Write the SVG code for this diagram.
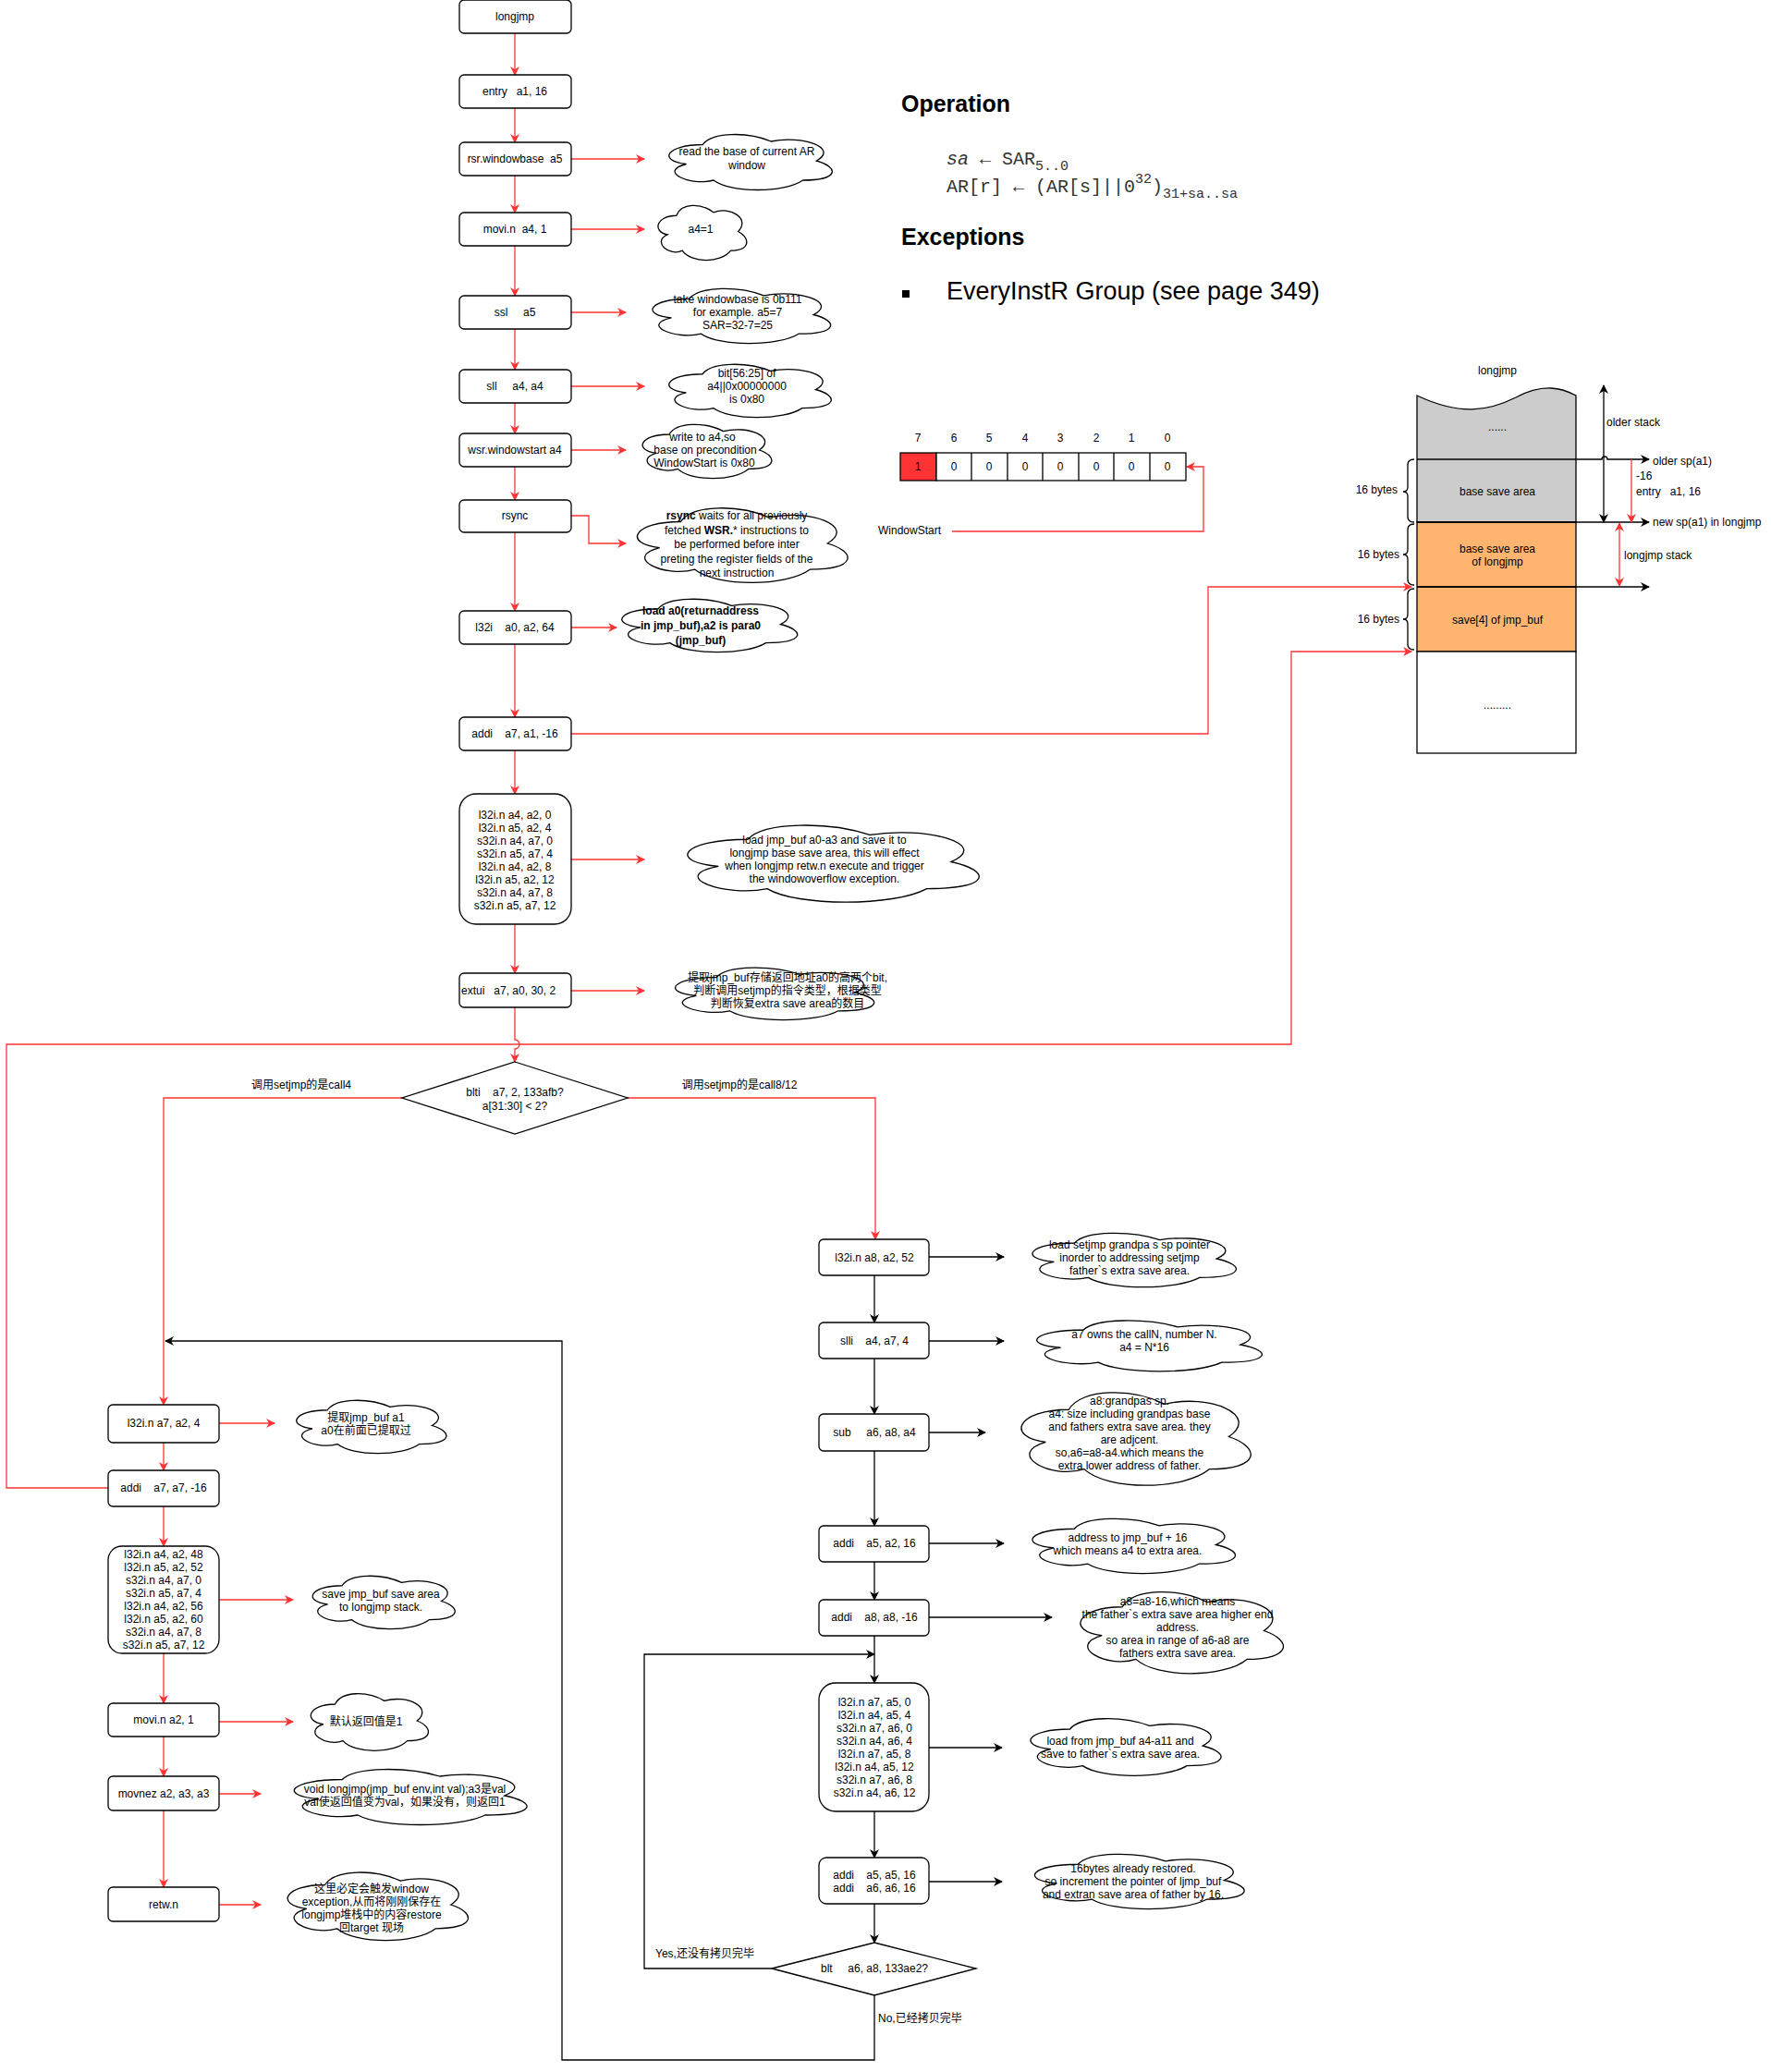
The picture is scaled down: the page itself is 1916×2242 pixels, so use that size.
<svg xmlns="http://www.w3.org/2000/svg" xmlns:xlink="http://www.w3.org/1999/xlink" width="1916" height="2242" viewBox="0 0 1916 2242">
<style>
text{font-family:"Liberation Sans","Noto Sans CJK SC",sans-serif;font-size:12px;fill:#000}
.t{text-anchor:middle;dominant-baseline:central}
.b{fill:#fff;stroke:#000;stroke-width:1.3}
.r{fill:none;stroke:#f33;stroke-width:1.3}
.k{fill:none;stroke:#000;stroke-width:1.3}
.cl{fill:#fff;stroke:#000;stroke-width:1.3}
text.mono{font-family:"Liberation Mono",monospace;font-size:20px;fill:#333}
text.h{font-size:25px;font-weight:bold}
text.big{font-size:27px}
</style>
<defs>
<marker id="ar" viewBox="0 0 10 10" refX="9" refY="5" markerWidth="10" markerHeight="10" markerUnits="userSpaceOnUse" orient="auto"><path d="M0,0 L10,5 L0,10 L3,5 Z" fill="#f33"/></marker>
<marker id="ak" viewBox="0 0 10 10" refX="9" refY="5" markerWidth="10" markerHeight="10" markerUnits="userSpaceOnUse" orient="auto"><path d="M0,0 L10,5 L0,10 L3,5 Z" fill="#000"/></marker>
<marker id="ars" viewBox="0 0 10 10" refX="1" refY="5" markerWidth="10" markerHeight="10" markerUnits="userSpaceOnUse" orient="auto"><path d="M10,0 L0,5 L10,10 L7,5 Z" fill="#f33"/></marker>
<marker id="aks" viewBox="0 0 10 10" refX="1" refY="5" markerWidth="10" markerHeight="10" markerUnits="userSpaceOnUse" orient="auto"><path d="M10,0 L0,5 L10,10 L7,5 Z" fill="#000"/></marker>
<symbol id="cloud" viewBox="0 0 100 100" preserveAspectRatio="none" overflow="visible">
<path vector-effect="non-scaling-stroke" class="cl" d="M25,25 C5,25 0,50 16,55 C0,66 18,90 31,80 C40,100 70,100 80,80 C100,80 100,60 87.5,50 C100,30 80,10 62.5,20 C50,5 30,5 25,25 Z"/>
</symbol>
</defs>

<g id="connectors">
<path class="r" marker-end="url(#ar)" d="M557,36 V81"/>
<path class="r" marker-end="url(#ar)" d="M557,117 V154"/>
<path class="r" marker-end="url(#ar)" d="M557,190 V230"/>
<path class="r" marker-end="url(#ar)" d="M557,266 V320"/>
<path class="r" marker-end="url(#ar)" d="M557,356 V400"/>
<path class="r" marker-end="url(#ar)" d="M557,436 V469"/>
<path class="r" marker-end="url(#ar)" d="M557,505 V541"/>
<path class="r" marker-end="url(#ar)" d="M557,576 V661"/>
<path class="r" marker-end="url(#ar)" d="M557,697 V776"/>
<path class="r" marker-end="url(#ar)" d="M557,812 V859"/>
<path class="r" marker-end="url(#ar)" d="M557,1000 V1053"/>
<path class="r" marker-end="url(#ar)" d="M557,1090 V1125 a5,5 0 0 1 0,10 V1149"/>
<path class="r" marker-end="url(#ar)" d="M618,172 H697"/>
<path class="r" marker-end="url(#ar)" d="M618,248 H697"/>
<path class="r" marker-end="url(#ar)" d="M618,338 H677"/>
<path class="r" marker-end="url(#ar)" d="M618,418 H697"/>
<path class="r" marker-end="url(#ar)" d="M618,487 H677"/>
<path class="r" marker-end="url(#ar)" d="M618,558 H637 V588 H677"/>
<path class="r" marker-end="url(#ar)" d="M618,679 H667"/>
<path class="r" marker-end="url(#ar)" d="M618,930 H697"/>
<path class="r" marker-end="url(#ar)" d="M618,1072 H697"/>
<path class="r" marker-end="url(#ar)" d="M618,794 H1307 V635 H1527"/>
<path class="r" marker-end="url(#ar)" d="M117,1610 H7 V1130 H1397 V705 H1527"/>
<path class="r" marker-end="url(#ar)" d="M435,1188 H177 V1520"/>
<path class="r" marker-end="url(#ar)" d="M679,1188 H947 V1341"/>
<path class="r" marker-end="url(#ar)" d="M177,1561 V1591"/>
<path class="r" marker-end="url(#ar)" d="M177,1630 V1673"/>
<path class="r" marker-end="url(#ar)" d="M177,1789 V1843"/>
<path class="r" marker-end="url(#ar)" d="M177,1879 V1922"/>
<path class="r" marker-end="url(#ar)" d="M177,1959 V2042"/>
<path class="r" marker-end="url(#ar)" d="M237,1540 H297"/>
<path class="r" marker-end="url(#ar)" d="M237,1731 H317"/>
<path class="r" marker-end="url(#ar)" d="M237,1863 H317"/>
<path class="r" marker-end="url(#ar)" d="M237,1941 H282"/>
<path class="r" marker-end="url(#ar)" d="M237,2061 H282"/>
<path class="k" marker-end="url(#ak)" d="M946,1380 V1431"/>
<path class="k" marker-end="url(#ak)" d="M946,1470 V1530"/>
<path class="k" marker-end="url(#ak)" d="M946,1570 V1651"/>
<path class="k" marker-end="url(#ak)" d="M946,1690 V1731"/>
<path class="k" marker-end="url(#ak)" d="M946,1770 V1821"/>
<path class="k" marker-end="url(#ak)" d="M946,1960 V2010"/>
<path class="k" marker-end="url(#ak)" d="M946,2060 V2102"/>
<path class="k" marker-end="url(#ak)" d="M835,2130 H697 V1790 H946"/>
<path class="k" marker-end="url(#ak)" d="M946,2159 V2229 H608 V1451 H179"/>
<path class="k" marker-end="url(#ak)" d="M1005,1360 H1086"/>
<path class="k" marker-end="url(#ak)" d="M1005,1451 H1086"/>
<path class="k" marker-end="url(#ak)" d="M1005,1550 H1066"/>
<path class="k" marker-end="url(#ak)" d="M1005,1670 H1086"/>
<path class="k" marker-end="url(#ak)" d="M1005,1750 H1138"/>
<path class="k" marker-end="url(#ak)" d="M1005,1891 H1084"/>
<path class="k" marker-end="url(#ak)" d="M1005,2036 H1084"/>
<path class="r" marker-end="url(#ar)" d="M1030,575 H1302 V505 H1284"/>
</g>

<text class="t" x="326" y="1174">调用setjmp的是call4</text>
<text class="t" x="800" y="1174">调用setjmp的是call8/12</text>
<text x="709" y="2118">Yes,还没有拷贝完毕</text>
<text x="950" y="2188">No,已经拷贝完毕</text>

<g id="n_longjmp"><rect class="b" x="497" y="0" width="121" height="36" rx="5"/><text class="t" x="557" y="18">longjmp</text></g>
<g id="n_entry"><rect class="b" x="497" y="81" width="121" height="36" rx="5"/><text class="t" x="557" y="99" xml:space="preserve">entry   a1, 16</text></g>
<g id="n_rsr"><rect class="b" x="497" y="154" width="121" height="36" rx="5"/><text class="t" x="557" y="172" xml:space="preserve">rsr.windowbase  a5</text></g>
<g id="n_movi"><rect class="b" x="497" y="230" width="121" height="36" rx="5"/><text class="t" x="557" y="248" xml:space="preserve">movi.n  a4, 1</text></g>
<g id="n_ssl"><rect class="b" x="497" y="320" width="121" height="36" rx="5"/><text class="t" x="557" y="338" xml:space="preserve">ssl     a5</text></g>
<g id="n_sll"><rect class="b" x="497" y="400" width="121" height="36" rx="5"/><text class="t" x="557" y="418" xml:space="preserve">sll     a4, a4</text></g>
<g id="n_wsr"><rect class="b" x="497" y="469" width="121" height="36" rx="5"/><text class="t" x="557" y="487">wsr.windowstart a4</text></g>
<g id="n_rsync"><rect class="b" x="497" y="541" width="121" height="35" rx="5"/><text class="t" x="557" y="558">rsync</text></g>
<g id="n_l32i"><rect class="b" x="497" y="661" width="121" height="36" rx="5"/><text class="t" x="557" y="679" xml:space="preserve">l32i    a0, a2, 64</text></g>
<g id="n_addi1"><rect class="b" x="497" y="776" width="121" height="36" rx="5"/><text class="t" x="557" y="794" xml:space="preserve">addi    a7, a1, -16</text></g>
<g id="n_blk1"><rect class="b" x="497" y="859" width="121" height="141" rx="18"/>
<text class="t" x="557" y="882">l32i.n  a4, a2, 0</text><text class="t" x="557" y="896">l32i.n  a5, a2, 4</text><text class="t" x="557" y="910">s32i.n  a4, a7, 0</text><text class="t" x="557" y="924">s32i.n  a5, a7, 4</text><text class="t" x="557" y="938">l32i.n  a4, a2, 8</text><text class="t" x="557" y="952">l32i.n  a5, a2, 12</text><text class="t" x="557" y="966">s32i.n  a4, a7, 8</text><text class="t" x="557" y="980">s32i.n  a5, a7, 12</text></g>
<g id="n_extui"><rect class="b" x="497" y="1053" width="121" height="37" rx="5"/><text x="499" y="1076" xml:space="preserve">extui   a7, a0, 30, 2</text></g>
<g id="n_blti"><polygon class="b" points="557,1149 679,1188 557,1227 435,1188"/><text class="t" x="557" y="1182" xml:space="preserve">blti    a7, 2, 133afb?</text><text class="t" x="557" y="1197">a[31:30] &lt; 2?</text></g>

<g id="c1"><use href="#cloud" x="711" y="139" width="197" height="70"/><text class="t" x="808" y="164">read the base of current AR</text><text class="t" x="808" y="179">window</text></g>
<g id="c2"><use href="#cloud" x="705" y="216" width="107" height="69"/><text class="t" x="758" y="248">a4=1</text></g>
<g id="c3"><use href="#cloud" x="692" y="306" width="215" height="69"/><text class="t" x="798" y="324">take windowbase is 0b111</text><text class="t" x="798" y="338">for example. a5=7</text><text class="t" x="798" y="352">SAR=32-7=25</text></g>
<g id="c4"><use href="#cloud" x="711" y="388" width="196" height="67"/><text class="t" x="808" y="404">bit[56:25] of</text><text class="t" x="808" y="418">a4||0x00000000</text><text class="t" x="808" y="432">is 0x80</text></g>
<g id="c5"><use href="#cloud" x="685" y="453" width="156" height="68"/><text class="t" x="760" y="473">write to a4,so</text><text class="t" x="763" y="487">base on precondition</text><text class="t" x="762" y="501">WindowStart is 0x80</text></g>
<g id="c6"><use href="#cloud" x="673" y="541" width="254" height="94"/><text class="t" x="797" y="558"><tspan font-weight="bold">rsync</tspan> waits for all previously</text><text class="t" x="797" y="574">fetched <tspan font-weight="bold">WSR.</tspan>* instructions to</text><text class="t" x="797" y="589">be performed before inter</text><text class="t" x="797" y="605">preting the register fields of the</text><text class="t" x="797" y="620">next instruction</text></g>
<g id="c7"><use href="#cloud" x="659" y="642" width="212" height="67"/><text class="t" x="758" y="661" font-weight="bold">load a0(returnaddress</text><text class="t" x="758" y="677" font-weight="bold">in jmp_buf),a2 is para0</text><text class="t" x="758" y="693" font-weight="bold">(jmp_buf)</text></g>
<g id="c8"><use href="#cloud" x="721" y="884" width="352" height="97"/><text class="t" x="892" y="909">load jmp_buf a0-a3 and save it to</text><text class="t" x="892" y="923">longjmp base save area, this will effect</text><text class="t" x="892" y="937">when longjmp retw.n execute and trigger</text><text class="t" x="892" y="951">the windowoverflow exception.</text></g>
<g id="c9"><use href="#cloud" x="715" y="1041" width="240" height="66"/><text class="t" x="852" y="1058">提取jmp_buf存储返回地址a0的高两个bit,</text><text class="t" x="852" y="1072">判断调用setjmp的指令类型，根据类型</text><text class="t" x="852" y="1086">判断恢复extra save area的数目</text></g>

<g id="n_l_l32i"><rect class="b" x="117" y="1520" width="120" height="41" rx="5"/><text class="t" x="177" y="1540">l32i.n  a7, a2, 4</text></g>
<g id="n_l_addi"><rect class="b" x="117" y="1591" width="120" height="39" rx="5"/><text class="t" x="177" y="1610" xml:space="preserve">addi    a7, a7, -16</text></g>
<g id="n_l_blk"><rect class="b" x="117" y="1673" width="120" height="116" rx="15"/>
<text class="t" x="177" y="1682">l32i.n  a4, a2, 48</text><text class="t" x="177" y="1696">l32i.n  a5, a2, 52</text><text class="t" x="177" y="1710">s32i.n  a4, a7, 0</text><text class="t" x="177" y="1724">s32i.n  a5, a7, 4</text><text class="t" x="177" y="1738">l32i.n  a4, a2, 56</text><text class="t" x="177" y="1752">l32i.n  a5, a2, 60</text><text class="t" x="177" y="1766">s32i.n  a4, a7, 8</text><text class="t" x="177" y="1780">s32i.n  a5, a7, 12</text></g>
<g id="n_l_movi"><rect class="b" x="117" y="1843" width="120" height="36" rx="5"/><text class="t" x="177" y="1861">movi.n  a2, 1</text></g>
<g id="n_l_movnez"><rect class="b" x="117" y="1922" width="120" height="37" rx="5"/><text class="t" x="177" y="1941">movnez  a2, a3, a3</text></g>
<g id="n_l_retw"><rect class="b" x="117" y="2042" width="120" height="37" rx="5"/><text class="t" x="177" y="2061">retw.n</text></g>
<g id="c10"><use href="#cloud" x="309" y="1509" width="181" height="67"/><text class="t" x="396" y="1534">提取jmp_buf a1</text><text class="t" x="396" y="1548">a0在前面已提取过</text></g>
<g id="c11"><use href="#cloud" x="327" y="1699" width="172" height="67"/><text class="t" x="412" y="1725">save jmp_buf save area</text><text class="t" x="412" y="1739">to longjmp stack.</text></g>
<g id="c12"><use href="#cloud" x="327" y="1826" width="142" height="72"/><text class="t" x="396" y="1863">默认返回值是1</text></g>
<g id="c13"><use href="#cloud" x="300" y="1908" width="281" height="70"/><text class="t" x="438" y="1936">void longjmp(jmp_buf env,int val);a3是val</text><text class="t" x="438" y="1950">val使返回值变为val，如果没有，则返回1</text></g>
<g id="c14"><use href="#cloud" x="297" y="2018" width="218" height="86"/><text class="t" x="402" y="2044">这里必定会触发window</text><text class="t" x="402" y="2058">exception,从而将刚刚保存在</text><text class="t" x="402" y="2072">longjmp堆栈中的内容restore</text><text class="t" x="402" y="2086">回target 现场</text></g>

<g id="n_r_l32i"><rect class="b" x="886" y="1341" width="119" height="39" rx="5"/><text class="t" x="946" y="1361">l32i.n  a8, a2, 52</text></g>
<g id="n_r_slli"><rect class="b" x="886" y="1431" width="119" height="39" rx="5"/><text class="t" x="946" y="1451" xml:space="preserve">slli    a4, a7, 4</text></g>
<g id="n_r_sub"><rect class="b" x="886" y="1530" width="119" height="40" rx="5"/><text class="t" x="946" y="1550" xml:space="preserve">sub     a6, a8, a4</text></g>
<g id="n_r_addi5"><rect class="b" x="886" y="1651" width="119" height="39" rx="5"/><text class="t" x="946" y="1670" xml:space="preserve">addi    a5, a2, 16</text></g>
<g id="n_r_addi8"><rect class="b" x="886" y="1731" width="119" height="39" rx="5"/><text class="t" x="946" y="1750" xml:space="preserve">addi    a8, a8, -16</text></g>
<g id="n_r_blk"><rect class="b" x="886" y="1821" width="119" height="139" rx="18"/>
<text class="t" x="946" y="1842">l32i.n  a7, a5, 0</text><text class="t" x="946" y="1856">l32i.n  a4, a5, 4</text><text class="t" x="946" y="1870">s32i.n  a7, a6, 0</text><text class="t" x="946" y="1884">s32i.n  a4, a6, 4</text><text class="t" x="946" y="1898">l32i.n  a7, a5, 8</text><text class="t" x="946" y="1912">l32i.n  a4, a5, 12</text><text class="t" x="946" y="1926">s32i.n  a7, a6, 8</text><text class="t" x="946" y="1940">s32i.n  a4, a6, 12</text></g>
<g id="n_r_addi2"><rect class="b" x="886" y="2010" width="119" height="50" rx="8"/><text class="t" x="946" y="2029" xml:space="preserve">addi    a5, a5, 16</text><text class="t" x="946" y="2043" xml:space="preserve">addi    a6, a6, 16</text></g>
<g id="n_r_blt"><polygon class="b" points="946,2102 1056,2130 946,2159 835,2130"/><text class="t" x="946" y="2130" xml:space="preserve">blt     a6, a8, 133ae2?</text></g>
<g id="c15"><use href="#cloud" x="1101" y="1328" width="246" height="68"/><text class="t" x="1222" y="1347">load setjmp grandpa s sp pointer</text><text class="t" x="1222" y="1361">inorder to addressing setjmp</text><text class="t" x="1222" y="1375">father`s extra save area.</text></g>
<g id="c16"><use href="#cloud" x="1104" y="1423" width="272" height="64"/><text class="t" x="1238" y="1444">a7 owns the callN, number N.</text><text class="t" x="1238" y="1458">a4 = N*16</text></g>
<g id="c17"><use href="#cloud" x="1087" y="1496" width="277" height="117"/><text class="t" x="1222" y="1516">a8:grandpas sp.</text><text class="t" x="1222" y="1530">a4: size including grandpas base</text><text class="t" x="1222" y="1544">and fathers extra save area. they</text><text class="t" x="1222" y="1558">are adjcent.</text><text class="t" x="1222" y="1572">so,a6=a8-a4.which means the</text><text class="t" x="1222" y="1586">extra lower address of father.</text></g>
<g id="c18"><use href="#cloud" x="1101" y="1637" width="245" height="69"/><text class="t" x="1220" y="1664">address to jmp_buf + 16</text><text class="t" x="1220" y="1678">which means a4 to extra area.</text></g>
<g id="c19"><use href="#cloud" x="1153" y="1713" width="245" height="103"/><text class="t" x="1274" y="1733">a8=a8-16,which means</text><text class="t" x="1274" y="1747">the father`s extra save area higher end</text><text class="t" x="1274" y="1761">address.</text><text class="t" x="1274" y="1775">so area in range of a6-a8  are</text><text class="t" x="1274" y="1789">fathers extra save area.</text></g>
<g id="c20"><use href="#cloud" x="1100" y="1853" width="230" height="72"/><text class="t" x="1212" y="1884">load from jmp_buf a4-a11 and</text><text class="t" x="1212" y="1898">save to father`s extra save area.</text></g>
<g id="c21"><use href="#cloud" x="1103" y="2000" width="253" height="69"/><text class="t" x="1226" y="2022">16bytes already restored.</text><text class="t" x="1226" y="2036">so increment the pointer of ljmp_buf</text><text class="t" x="1226" y="2050">and extran save area of father by 16.</text></g>

<g id="operation">
<text class="h" x="975" y="121">Operation</text>
<text class="mono" x="1024" y="178"><tspan font-style="italic">sa</tspan> ← SAR<tspan font-size="15" dy="6">5..0</tspan></text>
<text class="mono" x="1024" y="208">AR[r] ← (AR[s]||0<tspan font-size="15" dy="-10">32</tspan><tspan dy="10">)</tspan><tspan font-size="15" dy="6">31+sa..sa</tspan></text>
<text class="h" x="975" y="265">Exceptions</text>
<rect x="976" y="314" width="8" height="8" fill="#000"/>
<text class="big" x="1024" y="324">EveryInstR Group (see page 349)</text>
</g>

<g id="windowstart">
<rect x="974" y="490" width="39" height="30" fill="#f33" stroke="#000" stroke-width="1.3"/>
<rect x="1013" y="490" width="270" height="30" fill="#fff" stroke="#000" stroke-width="1.3"/>
<path class="k" d="M1051,490V520M1090,490V520M1128,490V520M1167,490V520M1205,490V520M1244,490V520"/>
<text class="t" x="993" y="505">1</text><text class="t" x="1032" y="505">0</text><text class="t" x="1070" y="505">0</text><text class="t" x="1109" y="505">0</text><text class="t" x="1147" y="505">0</text><text class="t" x="1186" y="505">0</text><text class="t" x="1224" y="505">0</text><text class="t" x="1263" y="505">0</text>
<text class="t" x="993" y="474">7</text><text class="t" x="1032" y="474">6</text><text class="t" x="1070" y="474">5</text><text class="t" x="1109" y="474">4</text><text class="t" x="1147" y="474">3</text><text class="t" x="1186" y="474">2</text><text class="t" x="1224" y="474">1</text><text class="t" x="1263" y="474">0</text>
<text x="950" y="578">WindowStart</text>
</g>

<g id="stack">
<text class="t" x="1620" y="401">longjmp</text>
<path d="M1533,428 C1580,450 1610,445 1640,430 C1670,414 1690,420 1705,428 V565 H1533 Z" fill="#ccc" stroke="#000" stroke-width="1.3"/>
<rect x="1533" y="565" width="172" height="140" fill="#ffb570" stroke="#000" stroke-width="1.3"/>
<rect x="1533" y="705" width="172" height="110" fill="#fff" stroke="#000" stroke-width="1.3"/>
<path class="k" d="M1533,635 H1705"/>
<text class="t" x="1620" y="462">......</text>
<text class="t" x="1620" y="532">base save area</text>
<text class="t" x="1620" y="594">base save area</text>
<text class="t" x="1620" y="608">of longjmp</text>
<text class="t" x="1620" y="671">save[4] of jmp_buf</text>
<text class="t" x="1620" y="763">.........</text>
<path class="k" d="M1530,497 q-7,0 -7,6 v24 q0,5 -5,5 q5,0 5,5 v22 q0,6 7,6"/>
<path class="k" d="M1530,567 q-7,0 -7,6 v22 q0,5 -5,5 q5,0 5,5 v22 q0,6 7,6"/>
<path class="k" d="M1530,637 q-7,0 -7,6 v22 q0,5 -5,5 q5,0 5,5 v22 q0,6 7,6"/>
<text x="1512" y="534" text-anchor="end">16 bytes</text>
<text x="1514" y="604" text-anchor="end">16 bytes</text>
<text x="1514" y="674" text-anchor="end">16 bytes</text>
<path class="k" marker-end="url(#ak)" d="M1533,497 H1733 a3,3 0 0 1 6,0 H1784"/>
<path class="k" marker-end="url(#ak)" d="M1533,565 H1784"/>
<path class="k" marker-end="url(#ak)" d="M1533,635 H1784"/>
<text x="1788" y="499" dominant-baseline="central">older sp(a1)</text>
<text x="1788" y="565" dominant-baseline="central">new sp(a1) in longjmp</text>
<path class="k" marker-start="url(#aks)" marker-end="url(#ak)" d="M1735,417 V565"/>
<text x="1738" y="457" dominant-baseline="central">older stack</text>
<path class="r" marker-end="url(#ar)" d="M1765,497 V565"/>
<text x="1770" y="515" dominant-baseline="central">-16</text>
<text x="1770" y="532" dominant-baseline="central" xml:space="preserve">entry   a1, 16</text>
<path class="r" marker-start="url(#ars)" marker-end="url(#ar)" d="M1752,566 V634"/>
<text x="1757" y="601" dominant-baseline="central">longjmp stack</text>
</g>
</svg>
